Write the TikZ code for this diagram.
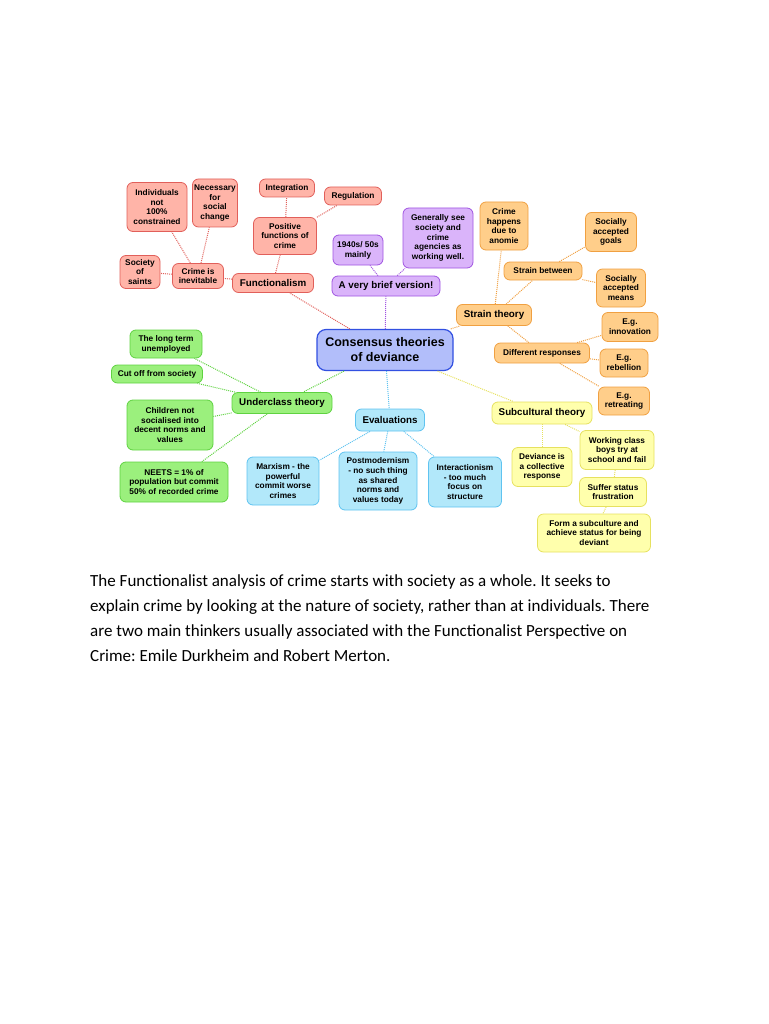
\documentclass[tikz,border=0pt]{standalone}
\usepackage{fontspec}
\setmainfont{Carlito}
\newfontfamily\mapfont{Liberation Sans}
\usepackage{tikz}
\usetikzlibrary{positioning}
\definecolor{funcFill}{RGB}{255,180,168}
\definecolor{funcLine}{RGB}{225,95,90}
\definecolor{briefFill}{RGB}{218,180,250}
\definecolor{briefLine}{RGB}{160,85,225}
\definecolor{strainFill}{RGB}{255,206,138}
\definecolor{strainLine}{RGB}{240,160,65}
\definecolor{coreFill}{RGB}{178,190,250}
\definecolor{coreLine}{RGB}{50,80,225}
\definecolor{underFill}{RGB}{155,240,125}
\definecolor{underLine}{RGB}{95,210,65}
\definecolor{evalFill}{RGB}{178,232,250}
\definecolor{evalLine}{RGB}{95,195,240}
\definecolor{subFill}{RGB}{255,255,172}
\definecolor{subLine}{RGB}{230,225,95}
\newcommand{\leaffont}{\mapfont\bfseries\fontsize{8.3}{9.8}\selectfont}
\newcommand{\branchfont}{\mapfont\bfseries\fontsize{9.8}{11}\selectfont}
\newcommand{\corefont}{\mapfont\bfseries\fontsize{12.5}{15}\selectfont}
\tikzset{
  box/.style={rounded corners=6pt, draw, thick, align=center,
              font=\leaffont, inner sep=1pt},
  branch/.style={box, font=\branchfont},
  hub/.style={box, very thick, font=\corefont, rounded corners=9pt},
  fam/.style={fill=#1Fill, draw=#1Line},
  link/.style={densely dotted, line width=1pt, #1Line},
}
\begin{document}
\frenchspacing
\begin{tikzpicture}[x=1pt, y=-1pt]
  \useasboundingbox (0,0) rectangle (768,1024);

  % centre
  \node[hub, fam=core, minimum width=136pt, minimum height=41pt] (core) at (385,350)
    {Consensus theories\\of deviance};

  % functionalism (red)
  \node[branch, fam=func, minimum width=81pt, minimum height=19pt] (func) at (273,283) {Functionalism};
  \node[box, fam=func, minimum width=51pt, minimum height=25pt] (inev) at (198,276) {Crime is\\inevitable};
  \node[box, fam=func, minimum width=40pt, minimum height=33pt] (saints) at (140,272) {Society\\of\\saints};
  \node[box, fam=func, minimum width=60pt, minimum height=49pt] (indiv) at (157,207) {Individuals\\not\\100\%\\constrained};
  \node[box, fam=func, minimum width=45pt, minimum height=48pt] (change) at (215,203) {Necessary\\for\\social\\change};
  \node[box, fam=func, minimum width=63pt, minimum height=37pt] (posit) at (285,236) {Positive\\functions of\\crime};
  \node[box, fam=func, minimum width=55pt, minimum height=18pt] (integ) at (287,188) {Integration};
  \node[box, fam=func, minimum width=57pt, minimum height=18pt] (regul) at (353,196) {Regulation};

  % brief version (purple)
  \node[branch, fam=brief, minimum width=108pt, minimum height=20pt] (brief) at (386,286) {A very brief version!};
  \node[box, fam=brief, minimum width=50pt, minimum height=30pt] (era) at (358,250) {1940s/ 50s\\mainly};
  \node[box, fam=brief, minimum width=70pt, minimum height=60pt] (see) at (438,238)
    {Generally see\\society and\\crime\\agencies as\\working well.};

  % strain theory (orange)
  \node[branch, fam=strain, minimum width=75pt, minimum height=21pt] (strain) at (494,315) {Strain theory};
  \node[box, fam=strain, minimum width=48pt, minimum height=48pt] (anomie) at (504,226) {Crime\\happens\\due to\\anomie};
  \node[box, fam=strain, minimum width=78pt, minimum height=18pt] (between) at (543,271) {Strain between};
  \node[box, fam=strain, minimum width=51pt, minimum height=39pt] (goals) at (611,232) {Socially\\accepted\\goals};
  \node[box, fam=strain, minimum width=49pt, minimum height=38pt] (means) at (621,288) {Socially\\accepted\\means};
  \node[box, fam=strain, minimum width=95pt, minimum height=20pt] (resp) at (542,353) {Different responses};
  \node[box, fam=strain, minimum width=56pt, minimum height=29pt] (innov) at (630,327) {E.g.\\innovation};
  \node[box, fam=strain, minimum width=48pt, minimum height=28pt] (rebel) at (624,363) {E.g.\\rebellion};
  \node[box, fam=strain, minimum width=51pt, minimum height=28pt] (retreat) at (624,401) {E.g.\\retreating};

  % subcultural theory (yellow)
  \node[branch, fam=sub, minimum width=100pt, minimum height=22pt] (subcult) at (542,413) {Subcultural theory};
  \node[box, fam=sub, minimum width=60pt, minimum height=39pt] (collect) at (542,467) {Deviance is\\a collective\\response};
  \node[box, fam=sub, minimum width=74pt, minimum height=39pt] (boys) at (617,450) {Working class\\boys try at\\school and fail};
  \node[box, fam=sub, minimum width=67pt, minimum height=29pt] (frust) at (613,492) {Suffer status\\frustration};
  \node[box, fam=sub, minimum width=113pt, minimum height=38pt] (form) at (594,533)
    {Form a subculture and\\achieve status for being\\deviant};

  % underclass theory (green)
  \node[branch, fam=under, minimum width=100pt, minimum height=21pt] (under) at (282,403) {Underclass theory};
  \node[box, fam=under, minimum width=72pt, minimum height=28pt] (unemp) at (166,344) {The long term\\unemployed};
  \node[box, fam=under, minimum width=91pt, minimum height=18pt] (cutoff) at (157,374) {Cut off from society};
  \node[box, fam=under, minimum width=86pt, minimum height=50pt] (kids) at (170,425)
    {Children not\\socialised into\\decent norms and\\values};
  \node[box, fam=under, minimum width=108pt, minimum height=40pt] (neets) at (174,482)
    {NEETS = 1\% of\\population but commit\\50\% of recorded crime};

  % evaluations (cyan)
  \node[branch, fam=eval, minimum width=69pt, minimum height=22pt] (eval) at (390,420) {Evaluations};
  \node[box, fam=eval, minimum width=72pt, minimum height=48pt] (marx) at (283,481)
    {Marxism - the\\powerful\\commit worse\\crimes};
  \node[box, fam=eval, minimum width=78pt, minimum height=58pt] (postmod) at (378,481)
    {Postmodernism\\- no such thing\\as shared\\norms and\\values today};
  \node[box, fam=eval, minimum width=73pt, minimum height=50pt] (interact) at (465,482)
    {Interactionism\\- too much\\focus on\\structure};

  % links from the centre
  \draw[link=func] (core) -- (func);
  \draw[link=brief] (core) -- (brief);
  \draw[link=strain] (core) -- (strain);
  \draw[link=sub] (core) -- (subcult);
  \draw[link=eval] (core) -- (eval);
  \draw[link=under] (core) -- (under);

  % red links
  \draw[link=func] (func) -- (inev);
  \draw[link=func] (func) -- (posit);
  \draw[link=func] (inev) -- (saints);
  \draw[link=func] (inev) -- (indiv);
  \draw[link=func] (inev) -- (change);
  \draw[link=func] (posit) -- (integ);
  \draw[link=func] (posit) -- (regul);

  % purple links
  \draw[link=brief] (brief) -- (era);
  \draw[link=brief] (brief) -- (see);

  % orange links
  \draw[link=strain] (strain) -- (anomie);
  \draw[link=strain] (strain) -- (between);
  \draw[link=strain] (strain) -- (resp);
  \draw[link=strain] (between) -- (goals);
  \draw[link=strain] (between) -- (means);
  \draw[link=strain] (resp) -- (innov);
  \draw[link=strain] (resp) -- (rebel);
  \draw[link=strain] (resp) -- (retreat);

  % yellow links
  \draw[link=sub] (subcult) -- (collect);
  \draw[link=sub] (subcult) -- (boys);
  \draw[link=sub] (boys) -- (frust);
  \draw[link=sub] (frust) -- (form);

  % green links
  \draw[link=under] (under) -- (unemp);
  \draw[link=under] (under) -- (cutoff);
  \draw[link=under] (under) -- (kids);
  \draw[link=under] (under) -- (neets);

  % cyan links
  \draw[link=eval] (eval) -- (marx);
  \draw[link=eval] (eval) -- (postmod);
  \draw[link=eval] (eval) -- (interact);

  % text below
  \node[anchor=north west, inner sep=0pt, align=left,
        font=\fontsize{17}{25}\selectfont] (para) at (90,574)
    {The Functionalist analysis of crime starts with society as a whole. It seeks to\\
     explain crime by looking at the nature of society, rather than at individuals. There\\
     are two main thinkers usually associated with the Functionalist Perspective on\\
     Crime: Emile Durkheim and Robert Merton.};
\end{tikzpicture}
\end{document}
